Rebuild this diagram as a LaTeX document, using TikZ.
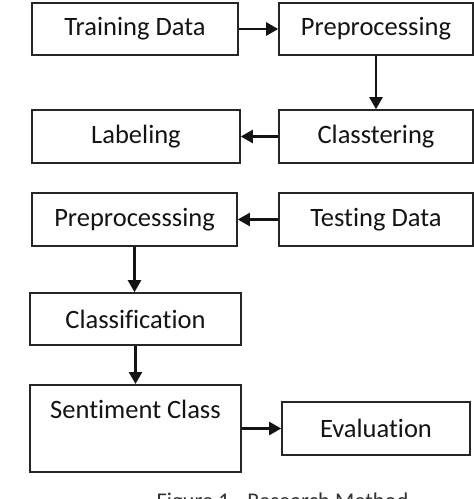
\documentclass[tikz,border=0pt]{standalone}
\usepackage{fontspec}
\setmainfont{Carlito}[Ligatures=NoCommon]
\usetikzlibrary{arrows.meta}
\begin{document}
\begin{tikzpicture}[x=1pt,y=-1pt,
  box/.style={draw=black!85,line width=1.6pt,rectangle,inner sep=0pt,
    font=\fontsize{26.5}{31}\selectfont,text=black!92},
  conn/.style={line width=2.4pt,-{Triangle[length=12pt,width=13pt]},black!92}]
\clip (0,0) rectangle (474,499);
\fill[white] (0,0) rectangle (474,499);
\node[box,minimum width=206pt,minimum height=52pt] (td) at (135,29) {Training Data};
\node[box,minimum width=194pt,minimum height=52pt] (pp) at (376,29) {Preprocessing};
\node[box,minimum width=208pt,minimum height=53pt] (lab) at (136,136.5) {Labeling};
\node[box,minimum width=194pt,minimum height=53pt] (cl) at (376,136.5) {Classtering};
\node[box,minimum width=205pt,minimum height=53pt] (pp2) at (134.5,219.5) {Preprocesssing};
\node[box,minimum width=194pt,minimum height=53pt] (te) at (376,219.5) {Testing Data};
\node[box,minimum width=211pt,minimum height=52pt] (cf) at (135.5,319) {Classification};
\node[box,minimum width=211pt,text height=34pt,text depth=53pt,anchor=north] (sc) at (135.5,384) {Sentiment Class};
\node[box,minimum width=188pt,minimum height=53pt] (ev) at (376,428.5) {Evaluation};
\node[font=\fontsize{22.5}{26}\selectfont,text=black!80,anchor=base,inner sep=0pt] (cap) at (282.5,508) {Figure 1. \ Research Method};
\draw[conn] (td.east) -- (pp.west);
\draw[conn] (pp.south) -- (cl.north);
\draw[conn] (cl.west) -- (lab.east);
\draw[conn] (te.west) -- (pp2.east);
\draw[conn] (pp2.south) -- (pp2.south |- cf.north);
\draw[conn] (cf.south) -- (sc.north);
\draw[conn] (sc.east |- ev.west) -- (ev.west);
\end{tikzpicture}
\end{document}
